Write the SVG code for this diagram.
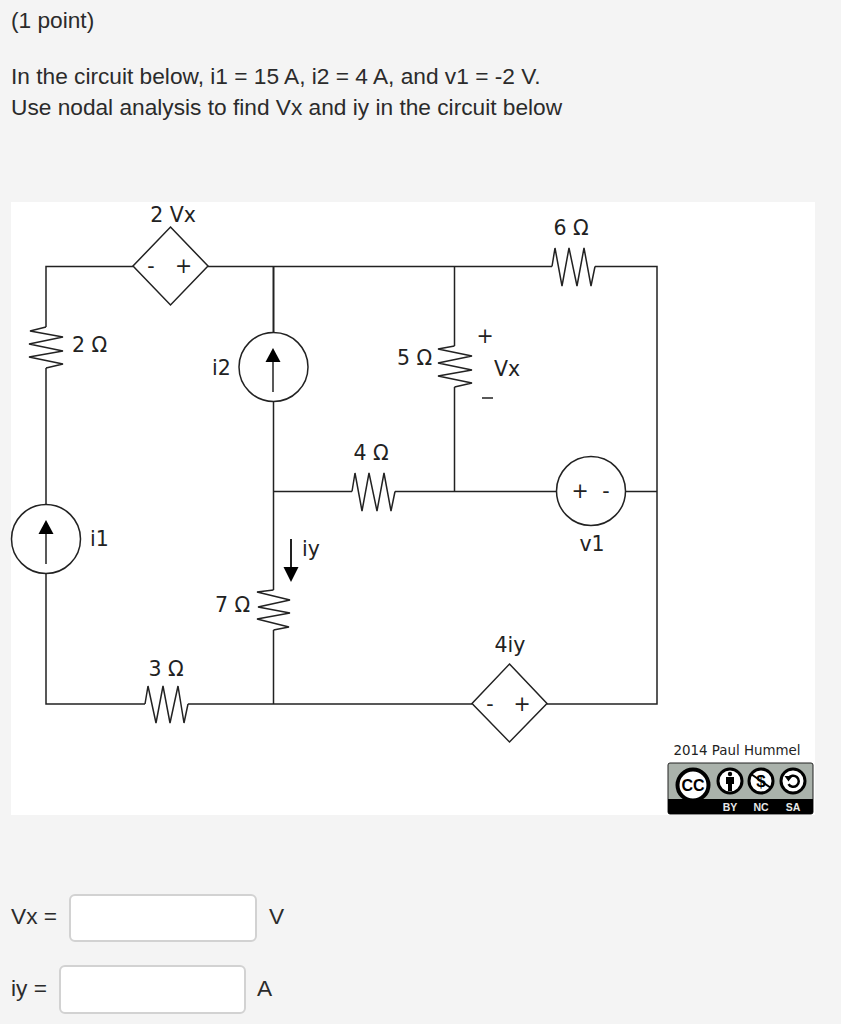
<svg xmlns="http://www.w3.org/2000/svg" width="841" height="1024" viewBox="0 0 841 1024">
<style>
.w{fill:none;stroke:#222;stroke-width:1.5}
.b{fill:none;stroke:#222;stroke-width:2}
.s{fill:#fff;stroke:#222;stroke-width:1.5}
.h{fill:#000;stroke:none}
.t{font-family:"DejaVu Sans",sans-serif;font-size:20.5px;fill:#222}
.m{text-anchor:middle}
.q{font-family:"Liberation Sans",Arial,sans-serif;font-size:22.7px;fill:#2b2b2b}
.i{fill:#fff;stroke:#d2d2d2;stroke-width:2}
.c{fill:#fff;stroke:#000;stroke-width:3}
.l{font-family:"Liberation Sans",Arial,sans-serif;font-weight:700;font-size:10.5px;fill:#e8e8e8;text-anchor:middle}
</style>
<rect width="841" height="1024" fill="#f4f4f4"/>
<rect x="11" y="202" width="804" height="613" fill="#fff"/>
<g id="question">
<text class="q" x="11" y="28">(1 point)</text>
<text class="q" x="11" y="84">In the circuit below, i1 = 15 A, i2 = 4 A, and v1 = -2 V.</text>
<text class="q" x="11" y="115">Use nodal analysis to find Vx and iy in the circuit below</text>
</g>
<g id="connectors">
<path class="w" d="M46 327V266.500H133M208 266.500H552M595 266.500H657V704H547"/>
<path class="b" d="M273.500 266.500V332"/>
<path class="w" d="M273.500 402V590M273.500 630V704M273.500 491.500H352M395 491.500H557M626 491.500H657"/>
<path class="w" d="M454.500 266.500V346M454.500 387V491.500"/>
<path class="w" d="M46 368V504M46 574V704H145M188 704H472"/>
</g>
<g id="r2"><path class="w" d="M46 327L30 331L63 337L29 344L63 351L29 357L63 364L46 368"/><text class="t" x="72" y="352">2 Ω</text></g>
<g id="r6"><path class="w" d="M552 266.500L555 248L562 286L569 248L577 286L584 248L591 286L595 266.500"/><text class="t m" x="571" y="235">6 Ω</text></g>
<g id="r5"><path class="w" d="M454.500 346L438 349L472 356L438 363L472 370L438 376L472 383L454.500 387"/><text class="t" x="397" y="365">5 Ω</text></g>
<g id="r4"><path class="w" d="M352 491.500L355 473L362 511L369 473L377 511L384 473L391 511L395 491.500"/><text class="t m" x="371" y="460">4 Ω</text></g>
<g id="r7"><path class="w" d="M273.500 590L257 592L290 600L258 607L290 613L257 619L289 627L273.500 630"/><text class="t" x="215" y="612">7 Ω</text></g>
<g id="r3"><path class="w" d="M145 704L148 686L156 723L163 686L170 723L178 686L184 723L188 704"/><text class="t m" x="166" y="676">3 Ω</text></g>
<g id="vcvs-2vx"><path class="s" d="M170.500 227L208 266L170.500 305L133 266Z"/><text class="t m" x="151" y="273">-</text><text class="t m" x="183.500" y="273">+</text><text class="t m" x="173" y="222">2 Vx</text></g>
<g id="vcvs-4iy"><path class="s" d="M509.500 664L547 703.500L509.500 742L472 703.500Z"/><text class="t m" x="490" y="711">-</text><text class="t m" x="522" y="711">+</text><text class="t m" x="510" y="652">4iy</text></g>
<g id="i2-source"><circle class="s" cx="273.500" cy="367" r="34.500"/><path class="w" d="M273 392V358"/><path class="h" d="M273 348L280.500 362H265.500Z"/><text class="t" x="212" y="375">i2</text></g>
<g id="i1-source"><circle class="s" cx="46" cy="539" r="34.500"/><path class="w" d="M46 564V530"/><path class="h" d="M46 520L53.500 534H38.500Z"/><text class="t" x="90" y="546">i1</text></g>
<g id="v1-source"><circle class="s" cx="591" cy="491" r="34.500"/><text class="t m" x="580" y="498">+</text><text class="t m" x="606" y="498">-</text><text class="t m" x="592" y="551">v1</text></g>
<g id="vx-label"><text class="t m" x="485" y="343">+</text><text class="t m" x="507" y="376">Vx</text><path class="w" d="M482 398H493"/></g>
<g id="iy-arrow"><path class="b" d="M291 539V570"/><path class="h" d="M291 582L283.500 567H298.500Z"/><text class="t" x="302" y="556">iy</text></g>
<g id="credit">
<text x="737" y="755" text-anchor="middle" font-family="DejaVu Sans, sans-serif" font-size="13.400" fill="#222">2014 Paul Hummel</text>
<rect x="668" y="763" width="145" height="51" rx="2" fill="#aab2ab" stroke="#222" stroke-width="1"/>
<path d="M668 799H813V812a2 2 0 0 1-2 2H670a2 2 0 0 1-2-2Z" fill="#000"/>
<circle cx="693" cy="785" r="15.500" fill="#fff" stroke="#000" stroke-width="4"/>
<text x="693" y="791" text-anchor="middle" font-family="Liberation Sans, sans-serif" font-weight="700" font-size="16" fill="#000">CC</text>
<circle class="c" cx="730" cy="781" r="12"/><circle class="h" cx="730" cy="774" r="2.200"/><path class="h" d="M726 777H734V784H732V791H728V784H726Z"/>
<circle class="c" cx="761" cy="781" r="12"/><text x="761" y="787" text-anchor="middle" font-family="Liberation Sans, sans-serif" font-weight="700" font-size="17" fill="#000">$</text><path d="M751 774L771 788" stroke="#000" stroke-width="2"/>
<circle class="c" cx="793" cy="781" r="12"/><path d="M788.500 778.500A5.500 5.500 0 1 1 788.500 784" fill="none" stroke="#000" stroke-width="2.500"/><path class="h" d="M784.500 776L792.500 776L788.500 781.500Z"/>
<text class="l" x="730" y="811">BY</text><text class="l" x="761" y="811">NC</text><text class="l" x="793" y="811">SA</text>
</g>
<g id="answer-vx"><text class="q" x="11" y="924">Vx =</text><rect class="i" x="70" y="895" width="186" height="46" rx="5"/><text class="q" x="269" y="924">V</text></g>
<g id="answer-iy"><text class="q" x="11" y="996">iy =</text><rect class="i" x="60" y="966" width="185" height="47" rx="5"/><text class="q" x="257" y="996">A</text></g>
</svg>
